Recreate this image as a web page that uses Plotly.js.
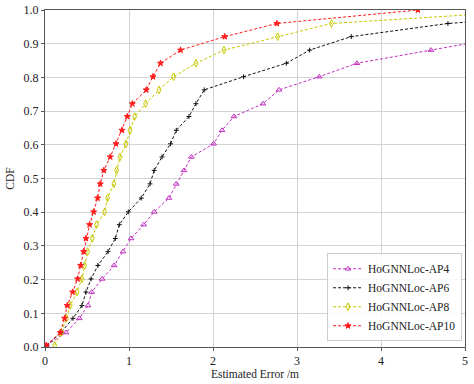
<!DOCTYPE html>
<html>
<head>
<meta charset="utf-8">
<script src="https://cdn.plot.ly/plotly-3.0.1.min.js"></script>
<style>html,body{margin:0;padding:0;background:#fff;}#chart{width:474px;height:384px;}</style>
</head>
<body>
<div id="chart"></div>
<script>
const cdfLevels = [0.005, 0.043, 0.085, 0.123, 0.163, 0.202, 0.242, 0.283, 0.322, 0.363, 0.401, 0.442, 0.484, 0.524, 0.564, 0.603, 0.643, 0.684, 0.722, 0.763, 0.802, 0.842, 0.881, 0.921, 0.96, 1.0];
const errAP4  = [0.015, 0.25, 0.408, 0.512, 0.556, 0.68, 0.823, 0.928, 1.024, 1.174, 1.30, 1.476, 1.563, 1.655, 1.742, 2.007, 2.107, 2.25, 2.595, 2.786, 3.265, 3.714, 4.595, 5.5, 6.2, 7.0];
const errAP6  = [0.02, 0.19, 0.333, 0.44, 0.488, 0.548, 0.63, 0.75, 0.837, 0.885, 0.992, 1.146, 1.25, 1.30, 1.393, 1.495, 1.563, 1.714, 1.797, 1.896, 2.364, 2.873, 3.15, 3.646, 4.797, 7.0];
const errAP8  = [0.115, 0.194, 0.254, 0.30, 0.381, 0.44, 0.472, 0.507, 0.563, 0.614, 0.71, 0.745, 0.82, 0.852, 0.893, 0.964, 1.012, 1.067, 1.198, 1.357, 1.531, 1.797, 2.13, 2.77, 3.41, 5.95];
const errAP10 = [0.015, 0.182, 0.233, 0.265, 0.329, 0.388, 0.424, 0.46, 0.488, 0.531, 0.579, 0.626, 0.658, 0.70, 0.777, 0.845, 0.916, 0.98, 1.04, 1.206, 1.286, 1.375, 1.614, 2.14, 2.76, 4.44];
const seriesNames = ["HoGNNLoc-AP4", "HoGNNLoc-AP6", "HoGNNLoc-AP8", "HoGNNLoc-AP10"];
const xTicks = [0, 1, 2, 3, 4, 5];
const yTicks = [0.0, 0.1, 0.2, 0.3, 0.4, 0.5, 0.6, 0.7, 0.8, 0.9, 1.0];
const yTickText = ["0.0","0.1","0.2","0.3","0.4","0.5","0.6","0.7","0.8","0.9","1.0"];

const styles = [
  {color: "#c030c0", symbol: "triangle-up-open", size: 5},
  {color: "#111111", symbol: "cross-thin-open", size: 3.5},
  {color: "#c8c800", symbol: "diamond-tall-open", size: 5.5},
  {color: "#ff1a1a", symbol: "star", size: 4.5}
];
const xs = [errAP4, errAP6, errAP8, errAP10];
const traces = xs.map((x, i) => ({
  type: "scatter", mode: "lines+markers", x: x, y: cdfLevels, name: seriesNames[i],
  line: {color: styles[i].color, width: 1, dash: "3px,2px"},
  marker: {symbol: styles[i].symbol, size: styles[i].size, color: styles[i].color,
           line: {color: styles[i].color, width: 1}},
  cliponaxis: true
}));
const serif = "Liberation Serif, Times New Roman, serif";
const layout = {
  width: 474, height: 384,
  margin: {l: 45, r: 9, t: 10, b: 37},
  paper_bgcolor: "#fff", plot_bgcolor: "#fff",
  font: {family: serif, size: 12, color: "#222"},
  showlegend: true,
  legend: {x: 0.993, y: 0.017, xanchor: "right", yanchor: "bottom",
           bgcolor: "rgba(255,255,255,0.85)", bordercolor: "#cccccc", borderwidth: 1,
           font: {family: serif, size: 11.5, color: "#222"}, tracegroupgap: 0, itemwidth: 30},
  xaxis: {range: [0, 5], tickvals: xTicks, ticktext: xTicks.map(String),
          showgrid: true, gridcolor: "#d3d3d3", gridwidth: 1,
          showline: true, linecolor: "#555", linewidth: 1, mirror: true,
          ticks: "outside", ticklen: 3, tickcolor: "#555", zeroline: false,
          tickfont: {family: serif, size: 12, color: "#222"},
          title: {text: "Estimated Error /m", font: {family: serif, size: 11.5, color: "#222"}, standoff: 2}},
  yaxis: {range: [0, 1], tickvals: yTicks, ticktext: yTickText,
          showgrid: true, gridcolor: "#d3d3d3", gridwidth: 1,
          showline: true, linecolor: "#555", linewidth: 1, mirror: true,
          ticks: "outside", ticklen: 3, tickcolor: "#555", zeroline: false,
          tickfont: {family: serif, size: 12, color: "#222"},
          title: {text: "CDF", font: {family: serif, size: 11.5, color: "#222"}, standoff: 6}}
};
Plotly.newPlot("chart", traces, layout, {displayModeBar: false, staticPlot: true});
</script>
</body>
</html>
